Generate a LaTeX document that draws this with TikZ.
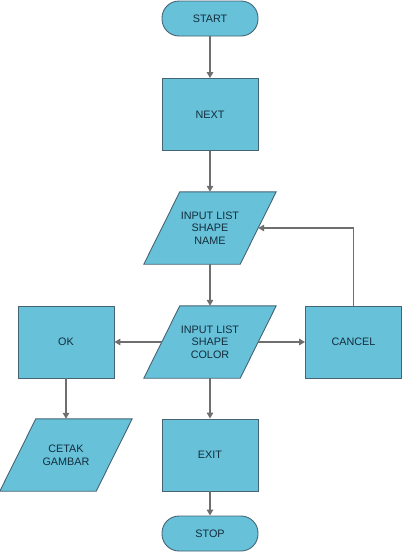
\documentclass[tikz,border=0pt]{standalone}
\usepackage{fontspec}
\setmainfont{Liberation Sans}
\usetikzlibrary{arrows.meta}
\definecolor{boxfill}{RGB}{102,193,217}
\definecolor{boxline}{RGB}{70,100,115}
\definecolor{txt}{RGB}{20,45,60}
\definecolor{conn}{RGB}{110,110,110}
\tikzset{
  base/.style={draw=boxline, fill=boxfill, line width=0.9pt, text=txt, align=center,
    font=\fontsize{10.8}{12.7}\selectfont, inner sep=0pt},
  term/.style={base, rounded corners=17pt, minimum width=96pt, minimum height=35pt},
  proc/.style={base, minimum width=96pt, minimum height=72pt},
  iotext/.style={text=txt, align=center, font=\fontsize{10.8}{12.7}\selectfont,
    inner sep=0pt, minimum width=132pt, minimum height=72pt},
  iobox/.style={draw=boxline, fill=boxfill, line width=0.9pt},
  conn/.style={draw=conn, line width=1.4pt, -{Triangle[length=6pt,width=6.5pt]}}
}
\newcommand{\ioshape}[1]{%
  \path[iobox] ([xshift=36pt]#1.north west) -- (#1.north east)
    -- ([xshift=-36pt]#1.south east) -- (#1.south west) -- cycle;}
\begin{document}
\begin{tikzpicture}[x=1pt,y=-1pt]
\useasboundingbox (0,0) rectangle (402,552);
\node[term] (start) at (210,18.5) {START};
\node[proc] (next) at (210,114.5) {NEXT};
\node[iotext] (p1) at (210,228) {};
\ioshape{p1}
\node[iotext] at (p1) {INPUT LIST\\SHAPE\\NAME};
\node[iotext] (p2) at (210,342) {};
\ioshape{p2}
\node[iotext] at (p2) {INPUT LIST\\SHAPE\\COLOR};
\node[proc] (ok) at (66,342) {OK};
\node[proc] (cancel) at (353.5,342) {CANCEL};
\node[iotext] (cetak) at (66,455) {};
\ioshape{cetak}
\node[iotext] at (cetak) {CETAK\\GAMBAR};
\node[proc] (exit) at (210,455) {EXIT};
\node[term] (stop) at (210,533.5) {STOP};
\draw[conn] (start) -- (next);
\draw[conn] (next.south) -- (next.south |- p1.north);
\draw[conn] (p1.south) -- (p2.north);
\draw[conn] ([xshift=18pt]p2.west) -- (ok.east);
\draw[conn] ([xshift=-18pt]p2.east) -- (cancel.west);
\draw[conn] (cancel.north) |- ([xshift=-18pt]p1.east);
\draw[conn] (ok.south) -- (ok.south |- cetak.north);
\draw[conn] (p2.south) -- (exit.north);
\draw[conn] (exit) -- (stop);
\end{tikzpicture}
\end{document}
